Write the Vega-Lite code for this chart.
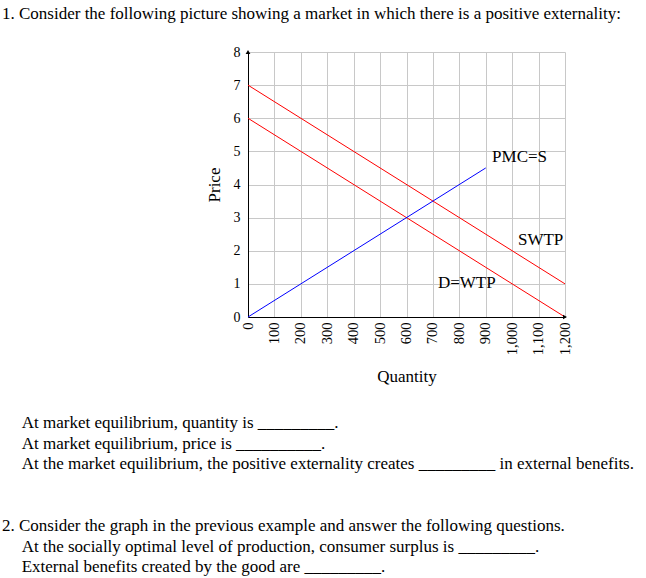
{
  "$schema": "https://vega.github.io/schema/vega-lite/v6.json",
  "width": 317,
  "height": 265,
  "autosize": {"type": "none"},
  "padding": {"left": 248, "top": 52, "right": 81, "bottom": 261},
  "background": "white",
  "config": {"view": {"stroke": null}, "font": "Liberation Serif"},
  "title": {
    "text": "1. Consider the following picture showing a market in which there is a positive externality:",
    "anchor": "start",
    "frame": "group",
    "dx": -246,
    "offset": 9,
    "baseline": "alphabetic",
    "font": "Liberation Serif",
    "fontSize": 17,
    "fontWeight": "normal",
    "color": "black"
  },
  "datasets": {
    "curves": [
      {"curve": "SWTP", "q": 0, "p": 7},
      {"curve": "SWTP", "q": 1200, "p": 1},
      {"curve": "D=WTP", "q": 0, "p": 6},
      {"curve": "D=WTP", "q": 1200, "p": 0},
      {"curve": "PMC=S", "q": 0, "p": 0},
      {"curve": "PMC=S", "q": 900, "p": 4.5}
    ],
    "curveLabels": [
      {"label": "PMC=S", "q": 924, "p": 4.67},
      {"label": "SWTP", "q": 1022, "p": 2.18},
      {"label": "D=WTP", "q": 719, "p": 0.87}
    ],
    "yTip": [{"q": 0, "p": 8}],
    "xTip": [{"q": 1200, "p": 0}],
    "questions": [
      {"level": 1, "line": 1, "text": "At market equilibrium, quantity is _________."},
      {"level": 1, "line": 2, "text": "At market equilibrium, price is __________."},
      {"level": 1, "line": 3, "text": "At the market equilibrium, the positive externality creates _________ in external benefits."},
      {"level": 0, "line": 6, "text": "2. Consider the graph in the previous example and answer the following questions."},
      {"level": 1, "line": 7, "text": "At the socially optimal level of production, consumer surplus is _________."},
      {"level": 1, "line": 8, "text": "External benefits created by the good are _________."}
    ]
  },
  "layer": [
    {
      "encoding": {
        "x": {
          "field": "q", "type": "quantitative", "title": "Quantity",
          "scale": {"domain": [0, 1200], "nice": false, "zero": false},
          "axis": {
            "values": [0, 100, 200, 300, 400, 500, 600, 700, 800, 900, 1000, 1100, 1200],
            "format": ",.0f",
            "labelAngle": 270,
            "labelFont": "Liberation Serif", "labelFontSize": 14.5, "labelColor": "black",
            "labelPadding": 5, "ticks": false, "labelOverlap": false,
            "grid": true, "gridColor": "#c8c8c8", "gridWidth": 1,
            "domainColor": "black", "domainWidth": 1,
            "titleFont": "Liberation Serif", "titleFontSize": 17, "titleFontWeight": "normal",
            "titleColor": "black", "titlePadding": 14
          }
        },
        "y": {
          "field": "p", "type": "quantitative", "title": "Price",
          "scale": {"domain": [0, 8], "nice": false, "zero": false},
          "axis": {
            "values": [0, 1, 2, 3, 4, 5, 6, 7, 8],
            "format": ".0f",
            "labelFont": "Liberation Serif", "labelFontSize": 14, "labelColor": "black",
            "labelPadding": 8, "ticks": false, "labelOverlap": false,
            "grid": true, "gridColor": "#c8c8c8", "gridWidth": 1,
            "domainColor": "black", "domainWidth": 1,
            "titleFont": "Liberation Serif", "titleFontSize": 17, "titleFontWeight": "normal",
            "titleColor": "black", "titlePadding": 10
          }
        }
      },
      "layer": [
        {
          "data": {"name": "curves"},
          "mark": {"type": "line", "strokeWidth": 1},
          "encoding": {
            "color": {
              "field": "curve", "type": "nominal",
              "scale": {"domain": ["SWTP", "D=WTP", "PMC=S"], "range": ["#ff0000", "#ff0000", "#0000ff"]},
              "legend": null
            }
          }
        },
        {
          "data": {"name": "curveLabels"},
          "mark": {"type": "text", "align": "left", "baseline": "alphabetic", "font": "Liberation Serif", "fontSize": 17, "color": "black"},
          "encoding": {
            "text": {"field": "label"}
          }
        },
        {
          "data": {"name": "yTip"},
          "mark": {"type": "point", "shape": "triangle-up", "size": 22, "filled": true, "color": "black", "opacity": 1}
        },
        {
          "data": {"name": "xTip"},
          "mark": {"type": "point", "shape": "triangle-right", "size": 22, "filled": true, "color": "black", "opacity": 1}
        }
      ]
    },
    {
      "data": {"name": "questions"},
      "mark": {"type": "text", "align": "left", "baseline": "alphabetic", "font": "Liberation Serif", "fontSize": 17, "color": "black"},
      "encoding": {
        "x": {"field": "level", "type": "quantitative", "scale": {"domain": [0, 1], "range": [-246, -226.3]}, "axis": null},
        "y": {"field": "line", "type": "quantitative", "scale": {"domain": [1, 8], "range": [376.1, 520.1]}, "axis": null},
        "text": {"field": "text"}
      }
    }
  ],
  "resolve": {"scale": {"x": "independent", "y": "independent"}}
}
